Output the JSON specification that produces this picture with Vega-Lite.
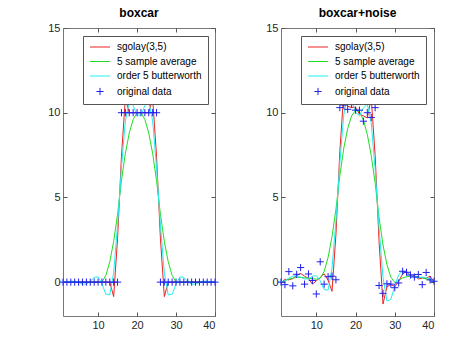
{
"$schema": "https://vega.github.io/schema/vega-lite/v6.json",
"background": "white",
"padding": {"left": 47, "top": 6, "right": 5, "bottom": 5},
"config": {
  "font": "Liberation Sans",
  "view": {"stroke": "#777", "strokeWidth": 1},
  "axis": {"grid": false, "domain": false, "tickSize": -4, "tickColor": "#555", "labelFontSize": 11, "labelColor": "#262626", "labelPadding": 7, "title": null},
  "title": {"fontSize": 12, "fontWeight": "bold", "offset": 2, "color": "#000"},
  "legend": {"orient": "none", "legendX": 20, "legendY": 8, "fillColor": "white", "strokeColor": "#555", "padding": 6, "labelFontSize": 10, "labelColor": "#000", "symbolSize": 64, "symbolStrokeWidth": 1, "rowPadding": 4.5, "symbolOffset": 6, "labelOffset": 12}
},
"datasets": {
"boxcar": [
{"x":1,"series":"sgolay(3,5)","y":0},{"x":2,"series":"sgolay(3,5)","y":0},{"x":3,"series":"sgolay(3,5)","y":0},{"x":4,"series":"sgolay(3,5)","y":0},{"x":5,"series":"sgolay(3,5)","y":0},{"x":6,"series":"sgolay(3,5)","y":0},{"x":7,"series":"sgolay(3,5)","y":0},{"x":8,"series":"sgolay(3,5)","y":0},{"x":9,"series":"sgolay(3,5)","y":0},{"x":10,"series":"sgolay(3,5)","y":0},{"x":11,"series":"sgolay(3,5)","y":0},{"x":12,"series":"sgolay(3,5)","y":0},{"x":13,"series":"sgolay(3,5)","y":0},{"x":14,"series":"sgolay(3,5)","y":-0.857},{"x":15,"series":"sgolay(3,5)","y":2.571},{"x":16,"series":"sgolay(3,5)","y":7.429},{"x":17,"series":"sgolay(3,5)","y":10.857},{"x":18,"series":"sgolay(3,5)","y":10},{"x":19,"series":"sgolay(3,5)","y":10},{"x":20,"series":"sgolay(3,5)","y":10},{"x":21,"series":"sgolay(3,5)","y":10},{"x":22,"series":"sgolay(3,5)","y":10},{"x":23,"series":"sgolay(3,5)","y":10},{"x":24,"series":"sgolay(3,5)","y":10.857},{"x":25,"series":"sgolay(3,5)","y":7.429},{"x":26,"series":"sgolay(3,5)","y":2.571},{"x":27,"series":"sgolay(3,5)","y":-0.857},{"x":28,"series":"sgolay(3,5)","y":0},{"x":29,"series":"sgolay(3,5)","y":0},{"x":30,"series":"sgolay(3,5)","y":0},{"x":31,"series":"sgolay(3,5)","y":0},{"x":32,"series":"sgolay(3,5)","y":0},{"x":33,"series":"sgolay(3,5)","y":0},{"x":34,"series":"sgolay(3,5)","y":0},{"x":35,"series":"sgolay(3,5)","y":0},{"x":36,"series":"sgolay(3,5)","y":0},{"x":37,"series":"sgolay(3,5)","y":0},{"x":38,"series":"sgolay(3,5)","y":0},{"x":39,"series":"sgolay(3,5)","y":0},{"x":40,"series":"sgolay(3,5)","y":0},
{"x":1,"series":"5 sample average","y":0},{"x":2,"series":"5 sample average","y":0},{"x":3,"series":"5 sample average","y":0},{"x":4,"series":"5 sample average","y":0},{"x":5,"series":"5 sample average","y":0},{"x":6,"series":"5 sample average","y":0},{"x":7,"series":"5 sample average","y":0},{"x":8,"series":"5 sample average","y":0},{"x":9,"series":"5 sample average","y":0},{"x":10,"series":"5 sample average","y":0},{"x":11,"series":"5 sample average","y":0},{"x":12,"series":"5 sample average","y":0.4},{"x":13,"series":"5 sample average","y":1.2},{"x":14,"series":"5 sample average","y":2.4},{"x":15,"series":"5 sample average","y":4.0},{"x":16,"series":"5 sample average","y":6.0},{"x":17,"series":"5 sample average","y":7.6},{"x":18,"series":"5 sample average","y":8.8},{"x":19,"series":"5 sample average","y":9.6},{"x":20,"series":"5 sample average","y":10},{"x":21,"series":"5 sample average","y":10},{"x":22,"series":"5 sample average","y":9.6},{"x":23,"series":"5 sample average","y":8.8},{"x":24,"series":"5 sample average","y":7.6},{"x":25,"series":"5 sample average","y":6.0},{"x":26,"series":"5 sample average","y":4.0},{"x":27,"series":"5 sample average","y":2.4},{"x":28,"series":"5 sample average","y":1.2},{"x":29,"series":"5 sample average","y":0.4},{"x":30,"series":"5 sample average","y":0},{"x":31,"series":"5 sample average","y":0},{"x":32,"series":"5 sample average","y":0},{"x":33,"series":"5 sample average","y":0},{"x":34,"series":"5 sample average","y":0},{"x":35,"series":"5 sample average","y":0},{"x":36,"series":"5 sample average","y":0},{"x":37,"series":"5 sample average","y":0},{"x":38,"series":"5 sample average","y":0},{"x":39,"series":"5 sample average","y":0},{"x":40,"series":"5 sample average","y":0},
{"x":1,"series":"order 5 butterworth","y":-0.022},{"x":2,"series":"order 5 butterworth","y":0.011},{"x":3,"series":"order 5 butterworth","y":0.055},{"x":4,"series":"order 5 butterworth","y":0.055},{"x":5,"series":"order 5 butterworth","y":-0.021},{"x":6,"series":"order 5 butterworth","y":-0.12},{"x":7,"series":"order 5 butterworth","y":-0.12},{"x":8,"series":"order 5 butterworth","y":0.04},{"x":9,"series":"order 5 butterworth","y":0.284},{"x":10,"series":"order 5 butterworth","y":0.303},{"x":11,"series":"order 5 butterworth","y":-0.109},{"x":12,"series":"order 5 butterworth","y":-0.713},{"x":13,"series":"order 5 butterworth","y":-0.757},{"x":14,"series":"order 5 butterworth","y":0.555},{"x":15,"series":"order 5 butterworth","y":3.354},{"x":16,"series":"order 5 butterworth","y":6.787},{"x":17,"series":"order 5 butterworth","y":9.51},{"x":18,"series":"order 5 butterworth","y":10.65},{"x":19,"series":"order 5 butterworth","y":10.42},{"x":20,"series":"order 5 butterworth","y":9.85},{"x":21,"series":"order 5 butterworth","y":9.85},{"x":22,"series":"order 5 butterworth","y":10.42},{"x":23,"series":"order 5 butterworth","y":10.65},{"x":24,"series":"order 5 butterworth","y":9.51},{"x":25,"series":"order 5 butterworth","y":6.787},{"x":26,"series":"order 5 butterworth","y":3.354},{"x":27,"series":"order 5 butterworth","y":0.555},{"x":28,"series":"order 5 butterworth","y":-0.757},{"x":29,"series":"order 5 butterworth","y":-0.713},{"x":30,"series":"order 5 butterworth","y":-0.109},{"x":31,"series":"order 5 butterworth","y":0.303},{"x":32,"series":"order 5 butterworth","y":0.284},{"x":33,"series":"order 5 butterworth","y":0.04},{"x":34,"series":"order 5 butterworth","y":-0.12},{"x":35,"series":"order 5 butterworth","y":-0.12},{"x":36,"series":"order 5 butterworth","y":-0.021},{"x":37,"series":"order 5 butterworth","y":0.055},{"x":38,"series":"order 5 butterworth","y":0.055},{"x":39,"series":"order 5 butterworth","y":0.011},{"x":40,"series":"order 5 butterworth","y":-0.022},
{"x":1,"series":"original data","y":0},{"x":2,"series":"original data","y":0},{"x":3,"series":"original data","y":0},{"x":4,"series":"original data","y":0},{"x":5,"series":"original data","y":0},{"x":6,"series":"original data","y":0},{"x":7,"series":"original data","y":0},{"x":8,"series":"original data","y":0},{"x":9,"series":"original data","y":0},{"x":10,"series":"original data","y":0},{"x":11,"series":"original data","y":0},{"x":12,"series":"original data","y":0},{"x":13,"series":"original data","y":0},{"x":14,"series":"original data","y":0},{"x":15,"series":"original data","y":0},{"x":16,"series":"original data","y":10},{"x":17,"series":"original data","y":10},{"x":18,"series":"original data","y":10},{"x":19,"series":"original data","y":10},{"x":20,"series":"original data","y":10},{"x":21,"series":"original data","y":10},{"x":22,"series":"original data","y":10},{"x":23,"series":"original data","y":10},{"x":24,"series":"original data","y":10},{"x":25,"series":"original data","y":10},{"x":26,"series":"original data","y":0},{"x":27,"series":"original data","y":0},{"x":28,"series":"original data","y":0},{"x":29,"series":"original data","y":0},{"x":30,"series":"original data","y":0},{"x":31,"series":"original data","y":0},{"x":32,"series":"original data","y":0},{"x":33,"series":"original data","y":0},{"x":34,"series":"original data","y":0},{"x":35,"series":"original data","y":0},{"x":36,"series":"original data","y":0},{"x":37,"series":"original data","y":0},{"x":38,"series":"original data","y":0},{"x":39,"series":"original data","y":0},{"x":40,"series":"original data","y":0}
],
"noise": [
{"x":1,"series":"sgolay(3,5)","y":-0.081},{"x":2,"series":"sgolay(3,5)","y":0.173},{"x":3,"series":"sgolay(3,5)","y":0.135},{"x":4,"series":"sgolay(3,5)","y":0.203},{"x":5,"series":"sgolay(3,5)","y":0.40},{"x":6,"series":"sgolay(3,5)","y":0.512},{"x":7,"series":"sgolay(3,5)","y":0.353},{"x":8,"series":"sgolay(3,5)","y":0.213},{"x":9,"series":"sgolay(3,5)","y":-0.119},{"x":10,"series":"sgolay(3,5)","y":0.075},{"x":11,"series":"sgolay(3,5)","y":0.266},{"x":12,"series":"sgolay(3,5)","y":0.493},{"x":13,"series":"sgolay(3,5)","y":0.119},{"x":14,"series":"sgolay(3,5)","y":-0.545},{"x":15,"series":"sgolay(3,5)","y":2.796},{"x":16,"series":"sgolay(3,5)","y":7.73},{"x":17,"series":"sgolay(3,5)","y":11.19},{"x":18,"series":"sgolay(3,5)","y":10.38},{"x":19,"series":"sgolay(3,5)","y":10.31},{"x":20,"series":"sgolay(3,5)","y":10.32},{"x":21,"series":"sgolay(3,5)","y":9.91},{"x":22,"series":"sgolay(3,5)","y":9.82},{"x":23,"series":"sgolay(3,5)","y":9.69},{"x":24,"series":"sgolay(3,5)","y":10.88},{"x":25,"series":"sgolay(3,5)","y":7.47},{"x":26,"series":"sgolay(3,5)","y":2.383},{"x":27,"series":"sgolay(3,5)","y":-1.296},{"x":28,"series":"sgolay(3,5)","y":-0.271},{"x":29,"series":"sgolay(3,5)","y":-0.145},{"x":30,"series":"sgolay(3,5)","y":-0.265},{"x":31,"series":"sgolay(3,5)","y":0.043},{"x":32,"series":"sgolay(3,5)","y":0.485},{"x":33,"series":"sgolay(3,5)","y":0.624},{"x":34,"series":"sgolay(3,5)","y":0.412},{"x":35,"series":"sgolay(3,5)","y":0.407},{"x":36,"series":"sgolay(3,5)","y":0.185},{"x":37,"series":"sgolay(3,5)","y":0.24},{"x":38,"series":"sgolay(3,5)","y":0.227},{"x":39,"series":"sgolay(3,5)","y":0.359},{"x":40,"series":"sgolay(3,5)","y":-0.007},
{"x":1,"series":"5 sample average","y":0.0},{"x":2,"series":"5 sample average","y":0.091},{"x":3,"series":"5 sample average","y":0.171},{"x":4,"series":"5 sample average","y":0.230},{"x":5,"series":"5 sample average","y":0.285},{"x":6,"series":"5 sample average","y":0.281},{"x":7,"series":"5 sample average","y":0.257},{"x":8,"series":"5 sample average","y":0.231},{"x":9,"series":"5 sample average","y":0.205},{"x":10,"series":"5 sample average","y":0.176},{"x":11,"series":"5 sample average","y":0.226},{"x":12,"series":"5 sample average","y":0.628},{"x":13,"series":"5 sample average","y":1.452},{"x":14,"series":"5 sample average","y":2.677},{"x":15,"series":"5 sample average","y":4.299},{"x":16,"series":"5 sample average","y":6.287},{"x":17,"series":"5 sample average","y":7.906},{"x":18,"series":"5 sample average","y":9.063},{"x":19,"series":"5 sample average","y":9.818},{"x":20,"series":"5 sample average","y":10.135},{"x":21,"series":"5 sample average","y":10.058},{"x":22,"series":"5 sample average","y":9.572},{"x":23,"series":"5 sample average","y":8.719},{"x":24,"series":"5 sample average","y":7.469},{"x":25,"series":"5 sample average","y":5.857},{"x":26,"series":"5 sample average","y":3.814},{"x":27,"series":"5 sample average","y":2.191},{"x":28,"series":"5 sample average","y":1.026},{"x":29,"series":"5 sample average","y":0.292},{"x":30,"series":"5 sample average","y":-0.026},{"x":31,"series":"5 sample average","y":0.106},{"x":32,"series":"5 sample average","y":0.252},{"x":33,"series":"5 sample average","y":0.314},{"x":34,"series":"5 sample average","y":0.349},{"x":35,"series":"5 sample average","y":0.351},{"x":36,"series":"5 sample average","y":0.317},{"x":37,"series":"5 sample average","y":0.244},{"x":38,"series":"5 sample average","y":0.190},{"x":39,"series":"5 sample average","y":0.124},{"x":40,"series":"5 sample average","y":0.05},
{"x":1,"series":"order 5 butterworth","y":-0.02},{"x":2,"series":"order 5 butterworth","y":0.08},{"x":3,"series":"order 5 butterworth","y":0.235},{"x":4,"series":"order 5 butterworth","y":0.354},{"x":5,"series":"order 5 butterworth","y":0.389},{"x":6,"series":"order 5 butterworth","y":0.292},{"x":7,"series":"order 5 butterworth","y":0.186},{"x":8,"series":"order 5 butterworth","y":0.196},{"x":9,"series":"order 5 butterworth","y":0.349},{"x":10,"series":"order 5 butterworth","y":0.377},{"x":11,"series":"order 5 butterworth","y":0.074},{"x":12,"series":"order 5 butterworth","y":-0.443},{"x":13,"series":"order 5 butterworth","y":-0.471},{"x":14,"series":"order 5 butterworth","y":0.825},{"x":15,"series":"order 5 butterworth","y":3.604},{"x":16,"series":"order 5 butterworth","y":7.063},{"x":17,"series":"order 5 butterworth","y":9.879},{"x":18,"series":"order 5 butterworth","y":11.03},{"x":19,"series":"order 5 butterworth","y":10.75},{"x":20,"series":"order 5 butterworth","y":10.02},{"x":21,"series":"order 5 butterworth","y":9.823},{"x":22,"series":"order 5 butterworth","y":10.286},{"x":23,"series":"order 5 butterworth","y":10.502},{"x":24,"series":"order 5 butterworth","y":9.388},{"x":25,"series":"order 5 butterworth","y":6.675},{"x":26,"series":"order 5 butterworth","y":3.183},{"x":27,"series":"order 5 butterworth","y":0.274},{"x":28,"series":"order 5 butterworth","y":-1.117},{"x":29,"series":"order 5 butterworth","y":-1.019},{"x":30,"series":"order 5 butterworth","y":-0.232},{"x":31,"series":"order 5 butterworth","y":0.441},{"x":32,"series":"order 5 butterworth","y":0.667},{"x":33,"series":"order 5 butterworth","y":0.551},{"x":34,"series":"order 5 butterworth","y":0.389},{"x":35,"series":"order 5 butterworth","y":0.28},{"x":36,"series":"order 5 butterworth","y":0.264},{"x":37,"series":"order 5 butterworth","y":0.301},{"x":38,"series":"order 5 butterworth","y":0.274},{"x":39,"series":"order 5 butterworth","y":0.165},{"x":40,"series":"order 5 butterworth","y":0.025},
{"x":1,"series":"original data","y":0.0},{"x":2,"series":"original data","y":-0.15},{"x":3,"series":"original data","y":0.62},{"x":4,"series":"original data","y":-0.22},{"x":5,"series":"original data","y":0.46},{"x":6,"series":"original data","y":0.86},{"x":7,"series":"original data","y":-0.12},{"x":8,"series":"original data","y":0.48},{"x":9,"series":"original data","y":0.10},{"x":10,"series":"original data","y":-0.70},{"x":11,"series":"original data","y":1.20},{"x":12,"series":"original data","y":-0.12},{"x":13,"series":"original data","y":0.32},{"x":14,"series":"original data","y":0.35},{"x":15,"series":"original data","y":0.14},{"x":16,"series":"original data","y":10.3},{"x":17,"series":"original data","y":10.45},{"x":18,"series":"original data","y":10.2},{"x":19,"series":"original data","y":10.5},{"x":20,"series":"original data","y":10.15},{"x":21,"series":"original data","y":10.15},{"x":22,"series":"original data","y":9.5},{"x":23,"series":"original data","y":10.0},{"x":24,"series":"original data","y":9.72},{"x":25,"series":"original data","y":10.3},{"x":26,"series":"original data","y":-0.2},{"x":27,"series":"original data","y":-0.66},{"x":28,"series":"original data","y":-0.1},{"x":29,"series":"original data","y":-0.12},{"x":30,"series":"original data","y":-0.33},{"x":31,"series":"original data","y":-0.05},{"x":32,"series":"original data","y":0.64},{"x":33,"series":"original data","y":0.58},{"x":34,"series":"original data","y":0.42},{"x":35,"series":"original data","y":0.3},{"x":36,"series":"original data","y":0.45},{"x":37,"series":"original data","y":-0.15},{"x":38,"series":"original data","y":0.57},{"x":39,"series":"original data","y":0.13},{"x":40,"series":"original data","y":0.05}
]
},
"spacing": 43,
"resolve": {"scale": {"color": "independent", "shape": "independent"}},
"hconcat": [
{
  "title": "boxcar",
  "width": 152, "height": 288,
  "data": {"name": "boxcar"},
  "layer": [
    {"transform": [{"filter": "datum.series !== 'original data'"}],
     "mark": {"type": "line", "strokeWidth": 1},
     "encoding": {
       "x": {"field": "x", "type": "quantitative", "scale": {"domain": [1, 40], "nice": false, "zero": false}, "axis": {"orient": "bottom", "values": [10, 20, 30, 40]}},
       "y": {"field": "y", "type": "quantitative", "scale": {"domain": [-2, 15], "nice": false, "zero": false}, "axis": {"orient": "left", "values": [0, 5, 10, 15]}},
       "color": {"field": "series", "type": "nominal", "scale": {"domain": ["sgolay(3,5)", "5 sample average", "order 5 butterworth", "original data"], "range": ["#ee2222", "#22dd22", "#22eeee", "#2020ee"]}, "legend": {"title": null}}
     }},
    {"transform": [{"filter": "datum.series === 'original data'"}],
     "mark": {"type": "point", "filled": false, "size": 64, "strokeWidth": 1, "opacity": 1},
     "encoding": {
       "x": {"field": "x", "type": "quantitative", "axis": {"orient": "top", "values": [10, 20, 30, 40], "labels": false}},
       "y": {"field": "y", "type": "quantitative", "axis": {"orient": "right", "values": [0, 5, 10, 15], "labels": false}},
       "color": {"field": "series", "type": "nominal", "legend": {"title": null}},
       "shape": {"field": "series", "type": "nominal", "scale": {"domain": ["sgolay(3,5)", "5 sample average", "order 5 butterworth", "original data"], "range": ["M-2.5,0H2.5", "M-2.5,0H2.5", "M-2.5,0H2.5", "M-0.9,0H0.9M0,-0.9V0.9"]}, "legend": {"title": null}}
     }}
  ],
  "resolve": {"axis": {"x": "independent", "y": "independent"}}
},
{
  "title": "boxcar+noise",
  "width": 153, "height": 288,
  "data": {"name": "noise"},
  "layer": [
    {"transform": [{"filter": "datum.series !== 'original data'"}],
     "mark": {"type": "line", "strokeWidth": 1},
     "encoding": {
       "x": {"field": "x", "type": "quantitative", "scale": {"domain": [1, 40], "nice": false, "zero": false}, "axis": {"orient": "bottom", "values": [10, 20, 30, 40]}},
       "y": {"field": "y", "type": "quantitative", "scale": {"domain": [-2, 15], "nice": false, "zero": false}, "axis": {"orient": "left", "values": [0, 5, 10, 15]}},
       "color": {"field": "series", "type": "nominal", "scale": {"domain": ["sgolay(3,5)", "5 sample average", "order 5 butterworth", "original data"], "range": ["#ee2222", "#22dd22", "#22eeee", "#2020ee"]}, "legend": {"title": null}}
     }},
    {"transform": [{"filter": "datum.series === 'original data'"}],
     "mark": {"type": "point", "filled": false, "size": 64, "strokeWidth": 1, "opacity": 1},
     "encoding": {
       "x": {"field": "x", "type": "quantitative", "axis": {"orient": "top", "values": [10, 20, 30, 40], "labels": false}},
       "y": {"field": "y", "type": "quantitative", "axis": {"orient": "right", "values": [0, 5, 10, 15], "labels": false}},
       "color": {"field": "series", "type": "nominal", "legend": {"title": null}},
       "shape": {"field": "series", "type": "nominal", "scale": {"domain": ["sgolay(3,5)", "5 sample average", "order 5 butterworth", "original data"], "range": ["M-2.5,0H2.5", "M-2.5,0H2.5", "M-2.5,0H2.5", "M-0.9,0H0.9M0,-0.9V0.9"]}, "legend": {"title": null}}
     }}
  ],
  "resolve": {"axis": {"x": "independent", "y": "independent"}}
}
]
}
